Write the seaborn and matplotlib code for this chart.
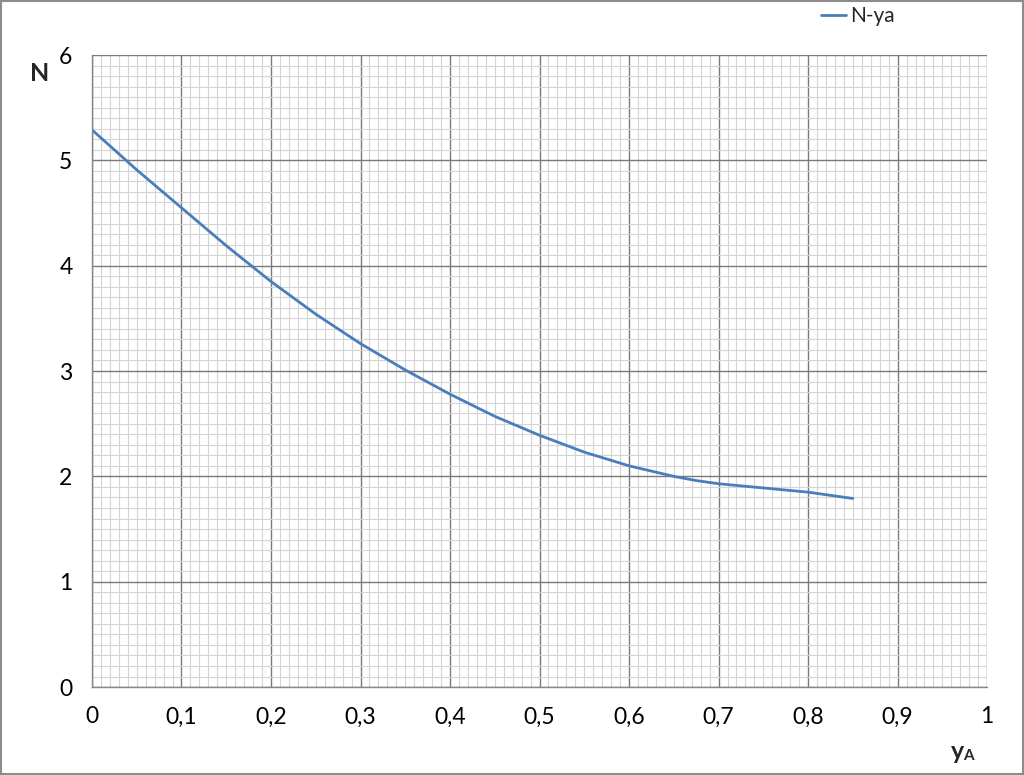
import pandas as pd
import seaborn as sns
import matplotlib.pyplot as plt
from matplotlib.ticker import MultipleLocator, FuncFormatter
from matplotlib.patches import Rectangle

ya = [0.0, 0.05, 0.1, 0.15, 0.2, 0.25, 0.3, 0.35, 0.4, 0.45, 0.5, 0.55, 0.6, 0.625, 0.65, 0.675, 0.7, 0.75, 0.8, 0.85]
N = [5.29, 4.91, 4.55, 4.19, 3.85, 3.54, 3.26, 3.01, 2.78, 2.57, 2.39, 2.23, 2.10, 2.05, 2.00, 1.96, 1.93, 1.89, 1.85, 1.79]

df = pd.DataFrame({"ya": ya, "N": N})

sns.set_theme(style="white")
plt.rcParams["font.family"] = ["Lato", "DejaVu Sans"]

fig = plt.figure(figsize=(10.24, 7.75), dpi=100)
ax = fig.add_axes([0.0898, 0.1135, 0.8742, 0.8155])

sns.lineplot(data=df, x="ya", y="N", color="#4a7ebb", linewidth=2.0, label="N-ya", ax=ax)
ax.lines[0].set_solid_joinstyle("round")

ax.set_xlim(0, 1)
ax.set_ylim(0, 6)
ax.xaxis.set_major_locator(MultipleLocator(0.1))
ax.xaxis.set_minor_locator(MultipleLocator(0.01))
ax.yaxis.set_major_locator(MultipleLocator(1))
ax.yaxis.set_minor_locator(MultipleLocator(0.1))

comma = FuncFormatter(lambda v, p: f"{v:.1f}".rstrip("0").rstrip(".").replace(".", ","))
ax.xaxis.set_major_formatter(comma)
ax.yaxis.set_major_formatter(comma)

ax.grid(which="major", color="#7a7a7a", linewidth=1.0)
ax.grid(which="minor", color="#d4d4d4", linewidth=0.8)
ax.set_axisbelow(True)

for s in ["top", "right"]:
    ax.spines[s].set_visible(False)
for s in ["left", "bottom"]:
    ax.spines[s].set_color("#868686")
    ax.spines[s].set_linewidth(1.0)

ax.tick_params(which="major", length=7, width=1, color="#868686", labelsize=16.5, labelcolor="black", pad=7)
ax.tick_params(which="minor", length=0)

ax.set_xlabel("")
ax.set_ylabel("")
fig.text(0.039, 0.905, "N", fontsize=18, fontweight="bold", ha="center", va="center")
fig.text(0.935, 0.030, "y", fontsize=18, fontweight="bold", ha="center", va="center")
fig.text(0.946, 0.024, "A", fontsize=11, fontweight="bold", ha="center", va="center")

ax.legend(loc="upper left", bbox_to_anchor=(0.805, 1.09), frameon=False, fontsize=15,
          handlelength=1.2, handletextpad=0.2, borderaxespad=0)

fig.patches.append(Rectangle((0.001, 0.001), 0.998, 0.998, transform=fig.transFigure,
                             fill=False, edgecolor="#8c8c8c", linewidth=1.5))

fig.savefig("out.png", dpi=100)
